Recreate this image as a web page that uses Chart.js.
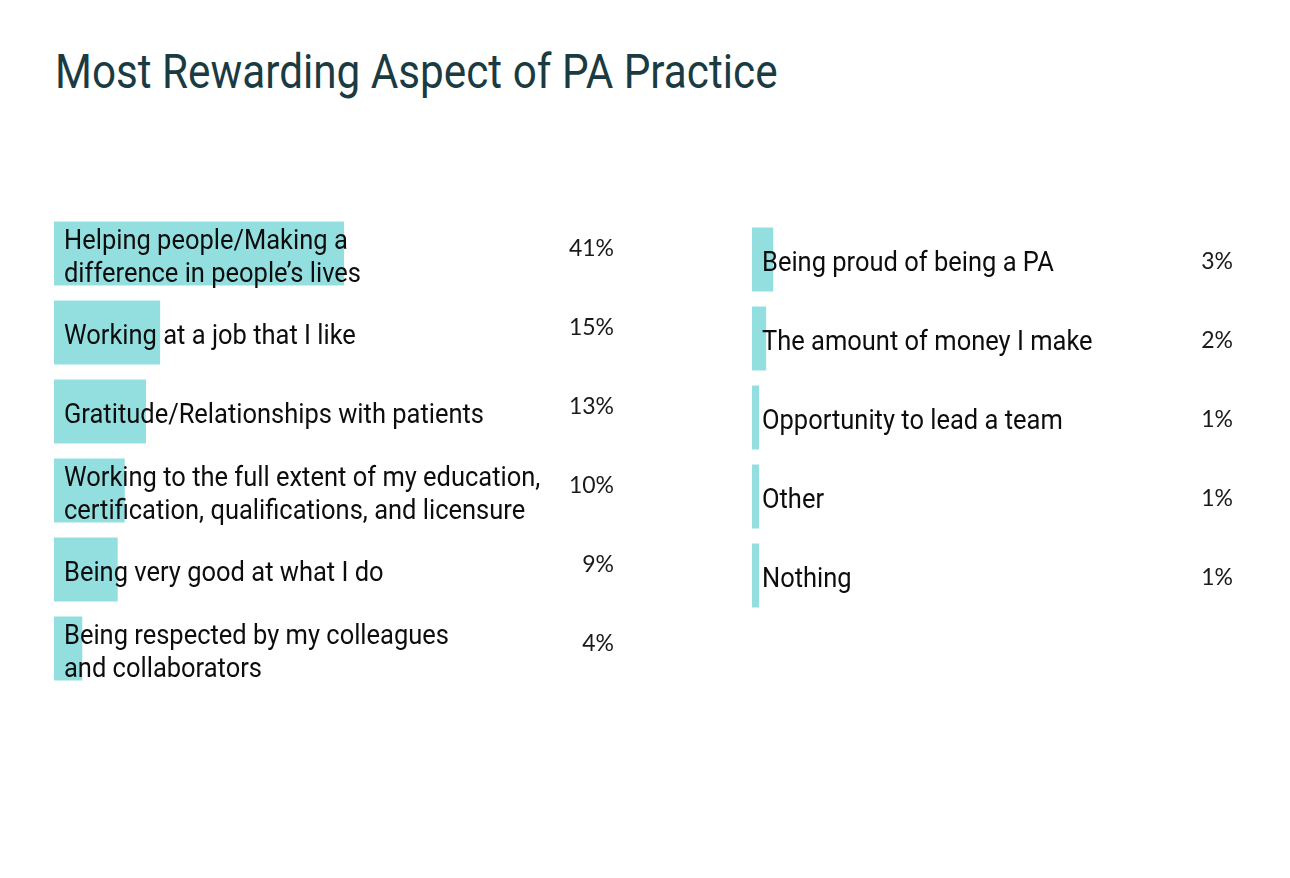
<!DOCTYPE html>
<html>
<head>
<meta charset="utf-8">
<script src="https://cdn.jsdelivr.net/npm/chart.js@4.4.1/dist/chart.umd.min.js"></script>
<style>
  html, body { margin: 0; padding: 0; background: #ffffff; }
  body { width: 1290px; height: 878px; position: relative; overflow: hidden; }
  #title {
    position: absolute; left: 55px; top: 43px;
    font-family: Roboto, "Noto Sans", sans-serif; font-size: 48px; font-weight: 400;
    color: #1b3b43; white-space: nowrap;
    transform: scaleX(0.88); transform-origin: left top;
  }
  canvas { position: absolute; }
  #leftChart { left: 54px; top: 214px; }
  #rightChart { left: 752px; top: 220px; }
</style>
</head>
<body>
<div id="title">Most Rewarding Aspect of PA Practice</div>
<canvas id="leftChart" width="566" height="474"></canvas>
<canvas id="rightChart" width="487" height="395"></canvas>
<script>
// ---- data ----
const leftCategories = [
  ["Helping people/Making a", "difference in people\u2019s lives"],
  ["Working at a job that I like"],
  ["Gratitude/Relationships with patients"],
  ["Working to the full extent of my education,", "certification, qualifications, and licensure"],
  ["Being very good at what I do"],
  ["Being respected by my colleagues", "and collaborators"]
];
const leftValues = [41, 15, 13, 10, 9, 4];

const rightCategories = [
  ["Being proud of being a PA"],
  ["The amount of money I make"],
  ["Opportunity to lead a team"],
  ["Other"],
  ["Nothing"]
];
const rightValues = [3, 2, 1, 1, 1];

// ---- styling ----
const BAR_COLOR = "#93dfe0";
const PX_PER_PCT = 7.075;
const CONDENSE = 0.91;

const labelPlugin = {
  id: "insideLabels",
  afterDatasetsDraw(chart, args, opts) {
    const ctx = chart.ctx;
    const meta = chart.getDatasetMeta(0);
    const area = chart.chartArea;
    const labels = chart.data.labels;
    const values = chart.data.datasets[0].data;
    meta.data.forEach((bar, i) => {
      const lines = labels[i];
      ctx.save();
      ctx.fillStyle = "#0d0d0d";
      ctx.font = "400 28px Roboto, 'Noto Sans', sans-serif";
      ctx.textAlign = "left";
      ctx.textBaseline = "alphabetic";
      const offs = lines.length === 1 ? [11] : [-5, 28];
      lines.forEach((ln, k) => {
        ctx.save();
        ctx.translate(area.left + 10, bar.y + offs[k]);
        ctx.scale(CONDENSE, 1);
        ctx.fillText(ln, 0, 0);
        ctx.restore();
      });
      ctx.font = "400 23px Lato, 'Open Sans', sans-serif";
      ctx.fillStyle = "#1a1a1a";
      ctx.textAlign = "right";
      ctx.fillText(values[i] + "%", area.right - opts.pctRight, bar.y + opts.pctOffset);
      ctx.restore();
    });
  }
};

function makeChart(id, cats, vals, width, pctOffset, pctRight) {
  return new Chart(document.getElementById(id), {
    type: "bar",
    data: {
      labels: cats,
      datasets: [{
        data: vals,
        backgroundColor: BAR_COLOR,
        borderWidth: 0,
        barPercentage: 0.81,
        categoryPercentage: 1.0
      }]
    },
    options: {
      indexAxis: "y",
      responsive: false,
      animation: false,
      layout: { padding: 0 },
      scales: {
        x: { display: false, min: 0, max: width / PX_PER_PCT },
        y: { display: false }
      },
      plugins: {
        legend: { display: false },
        tooltip: { enabled: false },
        insideLabels: { pctOffset: pctOffset, pctRight: pctRight }
      }
    },
    plugins: [labelPlugin]
  });
}

makeChart("leftChart", leftCategories, leftValues, 566, 2, 6);
makeChart("rightChart", rightCategories, rightValues, 487, 9, 6);
</script>
</body>
</html>
